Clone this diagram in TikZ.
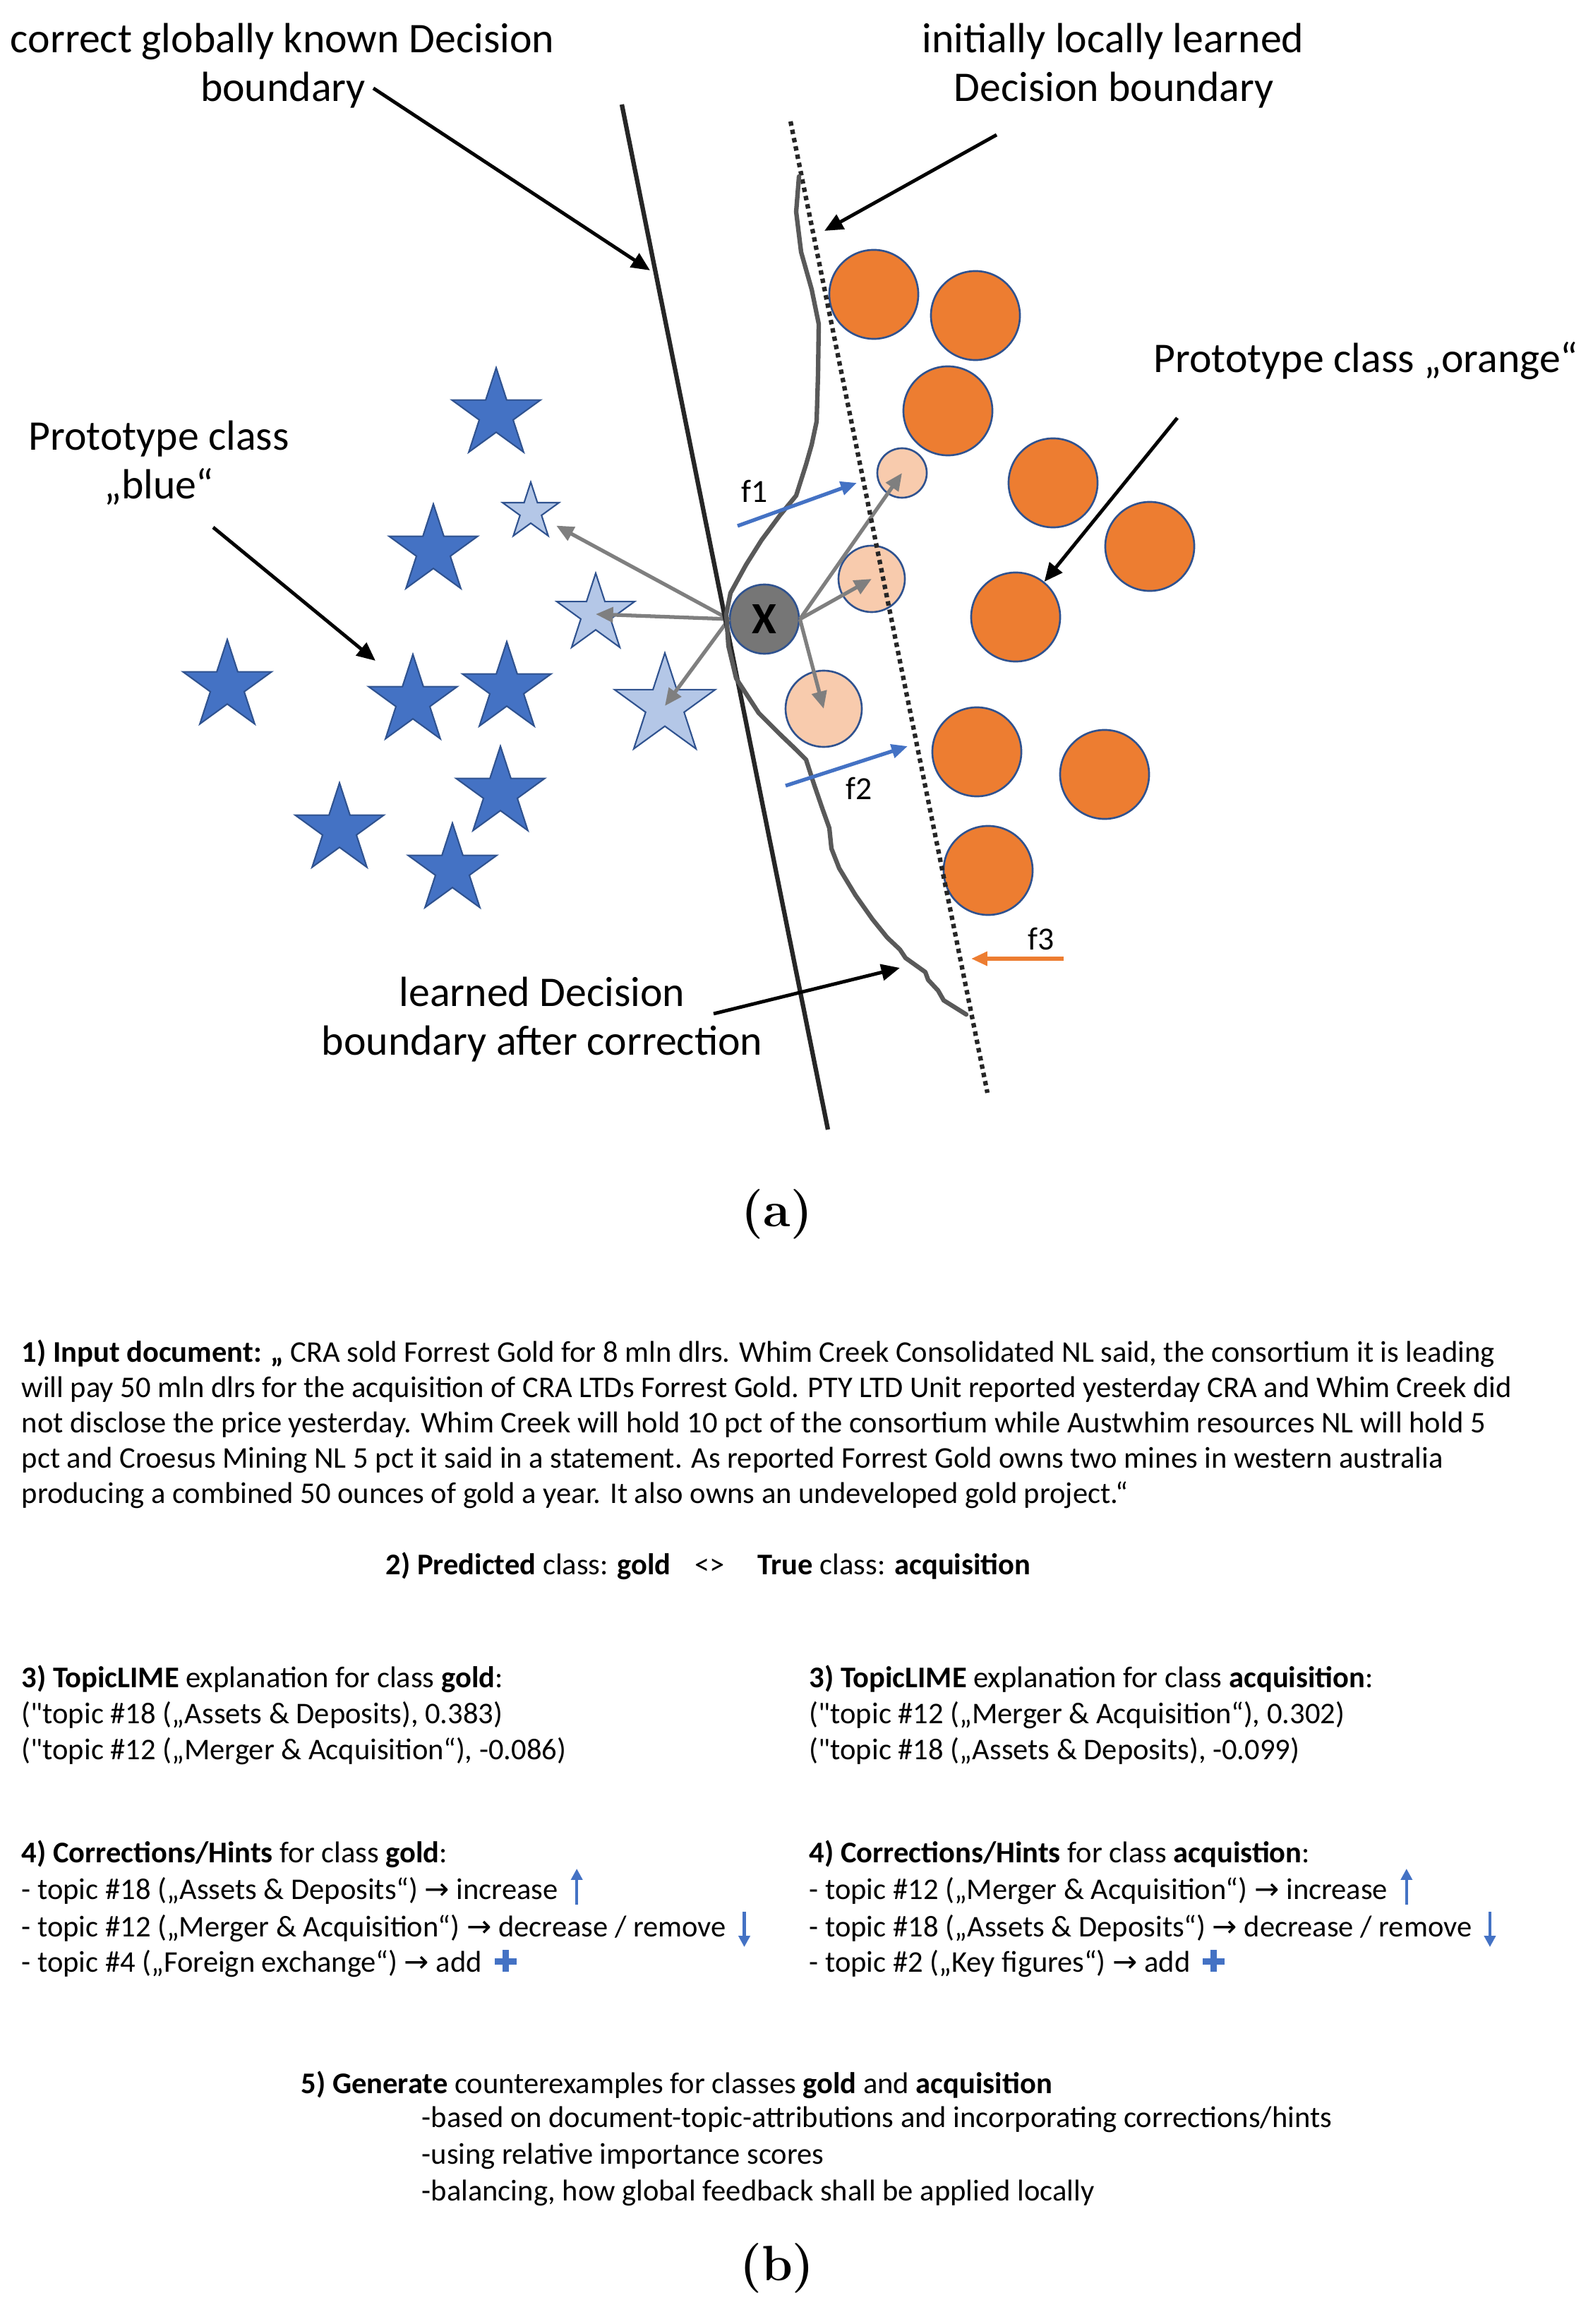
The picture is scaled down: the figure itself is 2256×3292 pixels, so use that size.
\documentclass[tikz,border=0pt]{standalone}
\usepackage{fontspec}
\newfontfamily\calfont{Carlito}
\newfontfamily\dvfont{DejaVu Sans}
\usetikzlibrary{shapes.geometric,arrows.meta,calc}
\definecolor{ored}{HTML}{ED7D31}
\definecolor{lorange}{HTML}{F8CBAD}
\definecolor{sblue}{HTML}{4472C4}
\definecolor{lblue}{HTML}{B4C7E7}
\definecolor{bord}{HTML}{2F528F}
\definecolor{gline}{HTML}{7F7F7F}
\definecolor{curvec}{HTML}{595959}
\definecolor{xgray}{HTML}{767676}
\definecolor{dline}{HTML}{262626}
\newcommand\myarrow{{\dvfont\fontsize{12}{12}\selectfont →}}
\begin{document}
\begin{tikzpicture}[x=0.01cm,y=-0.01cm,
  lbl/.style={font=\calfont\fontsize{17}{20}\selectfont, inner sep=0, anchor=base},
  flbl/.style={font=\calfont\fontsize{13}{15}\selectfont, inner sep=0, anchor=base},
  body/.style={font=\calfont\fontsize{12.1}{14.5}\selectfont, inner sep=0, anchor=base west},
  bstar/.style={star, star points=5, star point ratio=2.618, draw=bord, fill=sblue, line width=0.6pt, inner sep=0, minimum size=1.32cm},
  lstar/.style={bstar, fill=lblue},
  ocirc/.style={circle, draw=bord, fill=ored, line width=0.75pt, inner sep=0, minimum size=1.26cm},
  lcirc/.style={ocirc, fill=lorange},
  xcirc/.style={circle, draw=bord, fill=xgray, line width=0.75pt, inner sep=0, minimum size=0.98cm, font=\calfont\bfseries\fontsize{18}{18}\selectfont},
  garrow/.style={draw=gline, line width=1.5pt, -{Triangle[length=7pt,width=6pt]}},
  pointer/.style={draw=black, line width=1.4pt, -{Triangle[length=7.5pt,width=6.5pt]}},
  farrow/.style={draw=sblue, line width=1.5pt, -{Triangle[length=6.5pt,width=5.5pt]}},
  oarrow/.style={draw=ored, line width=1.5pt, -{Triangle[length=6.5pt,width=5.5pt]}},
  harrow/.style={draw=sblue, line width=1.2pt, -{Triangle[length=4.5pt,width=4.5pt]}},
  plussign/.style={draw=sblue, line width=0.09cm},
  solidb/.style={draw=dline, line width=1.8pt},
  dottedb/.style={draw=dline, line width=1.8pt, dash pattern=on 1.8pt off 1.6pt},
  curveb/.style={draw=curvec, line width=1.8pt, line join=round, line cap=round},
  capt/.style={font=\bfseries\fontsize{20}{20}\selectfont, inner sep=0}
]
\useasboundingbox (0,0) rectangle (2256,3292);

% ---------- blue stars ----------
\node[bstar] (s1) at (703,587) {};
\node[bstar] (s2) at (614,780) {};
\node[bstar] (s3) at (322,972) {};
\node[bstar] (s4) at (585,993) {};
\node[bstar] (s5) at (718,975) {};
\node[bstar] (s6) at (709,1123) {};
\node[bstar] (s7) at (481,1175) {};
\node[bstar] (s8) at (641,1232) {};
\node[lstar, minimum size=0.84cm] (ls1) at (752,725) {};
\node[lstar, minimum size=1.16cm] (ls2) at (844,870) {};
\node[lstar, minimum size=1.5cm] (ls3) at (942,1000) {};

% ---------- orange circles ----------
\node[ocirc] (o1) at (1238,417) {};
\node[ocirc] (o2) at (1382,447) {};
\node[ocirc] (o3) at (1343,582) {};
\node[ocirc] (o4) at (1492,684) {};
\node[ocirc] (o5) at (1629,774) {};
\node[ocirc] (o6) at (1439,874) {};
\node[ocirc] (o7) at (1384,1065) {};
\node[ocirc] (o8) at (1565,1097) {};
\node[ocirc] (o9) at (1400,1233) {};
\node[lcirc, minimum size=0.70cm] (lc1) at (1278,670) {};
\node[lcirc, minimum size=0.94cm] (lc2) at (1235,820) {};
\node[lcirc, minimum size=1.08cm] (lc3) at (1167,1004) {};

% ---------- sample X ----------
\node[xcirc] (X) at (1083,877) {X};

% gray arrows
\draw[garrow, shorten >=0.41cm] (X.west) -- (ls1.center);
\draw[garrow] (X.west) -- (ls2.center);
\draw[garrow] (X.west) -- (ls3.center);
\draw[garrow] (X.east) -- (lc1.center);
\draw[garrow] (X.east) -- (lc2.center);
\draw[garrow] (X.east) -- (lc3.center);

% ---------- decision boundaries ----------
\coordinate (gtop) at (881,148);
\coordinate (gbot) at (1173,1600);
\draw[solidb] (gtop) -- (gbot);
\coordinate (itop) at (1120,172);
\coordinate (ibot) at (1399,1548);
\draw[dottedb] (itop) -- (ibot);
\draw[curveb] (1132,250) -- (1128,300) -- (1135,357) -- (1150,410) -- (1160,459) -- (1159,530) -- (1157,597) -- (1150,630) -- (1142,658) -- (1128,702) -- (1105,730) -- (1079,765) -- (1057,800) -- (1035,840) -- (1029,870) -- (1032,915) -- (1043,961) -- (1075,1010) -- (1105,1040) -- (1128,1062) -- (1142,1076) -- (1153,1110) -- (1165,1145) -- (1175,1173) -- (1178,1202) -- (1189,1230) -- (1212,1268) -- (1236,1302) -- (1257,1328) -- (1275,1345) -- (1283,1357) -- (1311,1377) -- (1315,1388) -- (1329,1403) -- (1337,1417) -- (1369,1437);

% ---------- feature arrows ----------
\coordinate (f1s) at (1045,745); \coordinate (f1e) at (1214,684);
\draw[farrow] (f1s) -- (f1e);
\node[flbl] (f1) at (1069,712) {f1};
\coordinate (f2s) at (1113,1113); \coordinate (f2e) at (1286,1057);
\draw[farrow] (f2s) -- (f2e);
\node[flbl] (f2) at (1217,1132) {f2};
\coordinate (f3s) at (1507,1358); \coordinate (f3e) at (1376,1358);
\draw[oarrow] (f3s) -- (f3e);
\node[flbl] (f3) at (1475,1345) {f3};

% ---------- labels ----------
\node[lbl] (t1a) at (400,75) {correct globally known Decision};
\node[lbl] (t1b) at (401,144) {boundary};
\node[lbl] (t2a) at (1577,75) {initially locally learned};
\node[lbl] (t2b) at (1578,144) {Decision boundary};
\node[lbl] (t3) at (1935,528) {Prototype class „orange“};
\node[lbl] (t4a) at (225,638) {Prototype class};
\node[lbl] (t4b) at (225,707) {„blue“};
\node[lbl] (t5a) at (768,1425) {learned Decision};
\node[lbl] (t5b) at (768,1494) {boundary after correction};

% pointers
\coordinate (p1s) at (529,125); \coordinate (p1e) at (921,383);
\draw[pointer] (p1s) -- (p1e);
\coordinate (p2s) at (1412,191); \coordinate (p2e) at (1168,327);
\draw[pointer] (p2s) -- (p2e);
\coordinate (p3s) at (1668,592);
\draw[pointer] (p3s) -- (o6);
\coordinate (p4s) at (302,747); \coordinate (p4e) at (532,936);
\draw[pointer] (p4s) -- (p4e);
\coordinate (p5s) at (1011,1436); \coordinate (p5e) at (1275,1371);
\draw[pointer] (p5s) -- (p5e);

\node[capt] (capa) at (1101,1720) {(a)};

% ---------- text part (b) ----------
\node[body] (d1) at (30,1929) {\textbf{1) Input document: „} CRA sold Forrest Gold for 8 mln dlrs. Whim Creek Consolidated NL said, the consortium it is leading};
\node[body] (d2) at (30,1979) {will pay 50 mln dlrs for the acquisition of CRA LTDs Forrest Gold. PTY LTD Unit reported yesterday CRA and Whim Creek did};
\node[body] (d3) at (30,2029) {not disclose the price yesterday. Whim Creek will hold 10 pct of the consortium while Austwhim resources NL will hold 5};
\node[body] (d4) at (30,2079) {pct and Croesus Mining NL 5 pct it said in a statement. As reported Forrest Gold owns two mines in western australia};
\node[body] (d5) at (30,2129) {producing a combined 50 ounces of gold a year. It also owns an undeveloped gold project.“};

\node[body] (pc) at (546,2230) {\textbf{2) Predicted} class: \textbf{gold}\hspace{0.8em}<>\hspace{1.1em}\textbf{True} class: \textbf{acquisition}};

\node[body] (e1) at (30,2390) {\textbf{3) TopicLIME} explanation for class \textbf{gold}:};
\node[body] (e2) at (30,2441) {("topic \#18 („Assets \& Deposits), 0.383)};
\node[body] (e3) at (30,2492) {("topic \#12 („Merger \& Acquisition“), -0.086)};

\node[body] (r1) at (1146,2390) {\textbf{3) TopicLIME} explanation for class \textbf{acquisition}:};
\node[body] (r2) at (1146,2441) {("topic \#12 („Merger \& Acquisition“), 0.302)};
\node[body] (r3) at (1146,2492) {("topic \#18 („Assets \& Deposits), -0.099)};

\node[body] (g0) at (30,2638) {\textbf{4) Corrections/Hints} for class \textbf{gold}:};
\node[body] (g1) at (30,2690) {- topic \#18 („Assets \& Deposits“) \myarrow\ increase};
\node[body] (g2) at (30,2743) {- topic \#12 („Merger \& Acquisition“) \myarrow\ decrease / remove};
\node[body] (g3) at (30,2793) {- topic \#4 („Foreign exchange“) \myarrow\ add};
\draw[harrow] ($(g1.base east)+(26,8)$) -- ($(g1.base east)+(26,-43)$);
\draw[harrow] ($(g2.base east)+(25,-35)$) -- ($(g2.base east)+(25,15)$);
\draw[plussign] ($(g3.base east)+(17,-15)$) -- +(31,0);
\draw[plussign] ($(g3.base east)+(32.5,-31)$) -- +(0,31);

\node[body] (h0) at (1146,2638) {\textbf{4) Corrections/Hints} for class \textbf{acquistion}:};
\node[body] (h1) at (1146,2690) {- topic \#12 („Merger \& Acquisition“) \myarrow\ increase};
\node[body] (h2) at (1146,2743) {- topic \#18 („Assets \& Deposits“) \myarrow\ decrease / remove};
\node[body] (h3) at (1146,2793) {- topic \#2 („Key figures“) \myarrow\ add};
\draw[harrow] ($(h1.base east)+(26,8)$) -- ($(h1.base east)+(26,-43)$);
\draw[harrow] ($(h2.base east)+(25,-35)$) -- ($(h2.base east)+(25,15)$);
\draw[plussign] ($(h3.base east)+(17,-15)$) -- +(31,0);
\draw[plussign] ($(h3.base east)+(32.5,-31)$) -- +(0,31);

\node[body] (c0) at (426,2965) {\textbf{5) Generate} counterexamples for classes \textbf{gold} and \textbf{acquisition}};
\node[body] (c1) at (597,3013) {-based on document-topic-attributions and incorporating corrections/hints};
\node[body] (c2) at (597,3065) {-using relative importance scores};
\node[body] (c3) at (597,3117) {-balancing, how global feedback shall be applied locally};

\node[capt] (capb) at (1101,3213) {(b)};
\end{tikzpicture}
\end{document}
